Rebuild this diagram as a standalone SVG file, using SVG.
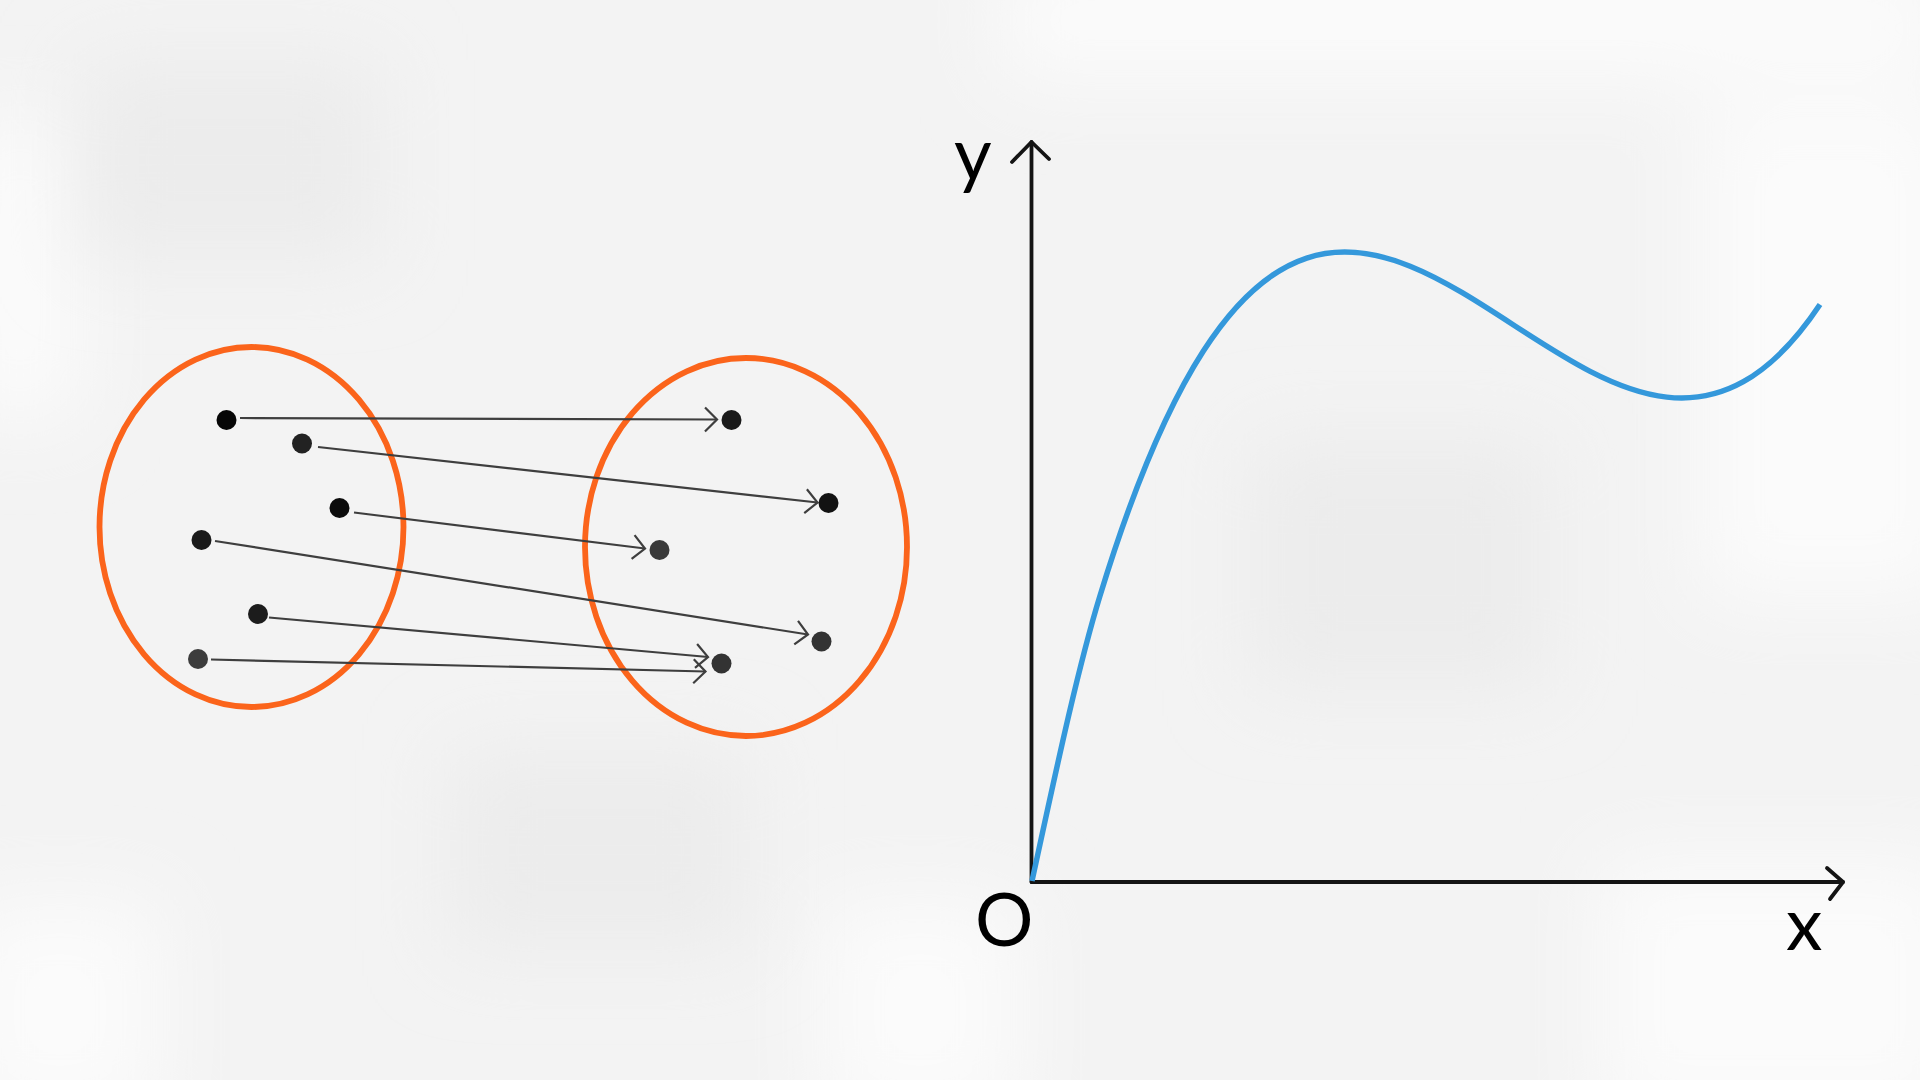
<svg xmlns="http://www.w3.org/2000/svg" width="1920" height="1080" viewBox="0 0 1920 1080">
  <defs>
    <style>
      .set { fill: none; stroke: #fb641b; stroke-width: 5.8; }
      .dot { stroke: none; }
      .conn { fill: none; stroke: #3e3e3e; stroke-width: 2.2; }
      .axis { fill: none; stroke: #141414; stroke-width: 3.8; stroke-linecap: round; stroke-linejoin: round; }
      .curve { fill: none; stroke: #3498db; stroke-width: 5.5; stroke-linecap: butt; }
      .lbl { font-family: Lato, "Liberation Sans", sans-serif; font-weight: 400; font-size: 73px; fill: #000; }
    </style>
    <marker id="chev" viewBox="0 0 16 28" refX="14" refY="14" markerWidth="16" markerHeight="28" markerUnits="userSpaceOnUse" orient="auto">
      <path d="M2,2 L14,14 L2,26" fill="none" stroke="#3e3e3e" stroke-width="2.2"/>
    </marker>
    <filter id="soft" x="-20%" y="-20%" width="140%" height="140%">
      <feGaussianBlur stdDeviation="40"/>
    </filter>
  </defs>

  <!-- background -->
  <g id="background">
    <rect x="0" y="0" width="1920" height="1080" fill="#f3f3f3"/>
    <g filter="url(#soft)" fill="#fbfbfb">
      <rect x="1000" y="-40" width="950" height="120"/>
      <rect x="1700" y="100" width="260" height="500"/>
      <rect x="-40" y="120" width="120" height="300"/>
      <rect x="1600" y="860" width="360" height="260"/>
      <rect x="820" y="900" width="200" height="220"/>
      <rect x="-40" y="900" width="200" height="220"/>
    </g>
    <g filter="url(#soft)" fill="#ececec">
      <rect x="80" y="60" width="300" height="200"/>
      <rect x="1250" y="440" width="300" height="250"/>
      <rect x="450" y="750" width="300" height="200"/>
    </g>
  </g>

  <!-- sets -->
  <g id="set-left">
    <ellipse class="set" cx="251.5" cy="527" rx="152" ry="180"/>
  </g>
  <g id="set-right">
    <ellipse class="set" cx="746" cy="547" rx="161" ry="189"/>
  </g>

  <!-- connectors -->
  <g id="connectors">
    <line class="conn" x1="240" y1="418" x2="717" y2="419.5" marker-end="url(#chev)"/>
    <line class="conn" x1="318" y1="447" x2="817.5" y2="502.5" marker-end="url(#chev)"/>
    <line class="conn" x1="354" y1="512.5" x2="645" y2="548.5" marker-end="url(#chev)"/>
    <line class="conn" x1="215" y1="541" x2="808" y2="634.5" marker-end="url(#chev)"/>
    <line class="conn" x1="269" y1="617.5" x2="708" y2="657" marker-end="url(#chev)"/>
    <line class="conn" x1="211" y1="659.5" x2="705.5" y2="671.5" marker-end="url(#chev)"/>
  </g>

  <!-- elements of left set -->
  <g id="a1"><circle class="dot" cx="226.5" cy="420" r="10" fill="#060606"/></g>
  <g id="a2"><circle class="dot" cx="302" cy="443.5" r="10" fill="#222222"/></g>
  <g id="a3"><circle class="dot" cx="339.5" cy="508" r="10" fill="#0b0b0b"/></g>
  <g id="a4"><circle class="dot" cx="201.5" cy="540" r="10" fill="#1a1a1a"/></g>
  <g id="a5"><circle class="dot" cx="258" cy="614" r="10" fill="#1c1c1c"/></g>
  <g id="a6"><circle class="dot" cx="198" cy="659" r="10" fill="#3c3c3c"/></g>

  <!-- elements of right set -->
  <g id="b1"><circle class="dot" cx="731.5" cy="420" r="10" fill="#1a1a1a"/></g>
  <g id="b2"><circle class="dot" cx="828.5" cy="503" r="10" fill="#121212"/></g>
  <g id="b3"><circle class="dot" cx="659.5" cy="550" r="10" fill="#3a3a3a"/></g>
  <g id="b4"><circle class="dot" cx="821.5" cy="641.5" r="10" fill="#333333"/></g>
  <g id="b5"><circle class="dot" cx="721.5" cy="663.5" r="10" fill="#333333"/></g>

  <!-- axes -->
  <g id="axis-y">
    <line class="axis" x1="1031.5" y1="882" x2="1031.5" y2="142"/>
    <polyline class="axis" points="1012,162 1031.5,142 1049,159"/>
  </g>
  <g id="axis-x">
    <line class="axis" x1="1031.5" y1="882" x2="1843" y2="882"/>
    <polyline class="axis" points="1827,868 1843,882 1830,899"/>
  </g>

  <!-- function graph -->
  <g id="graph">
    <path class="curve" d="M1032,881 C1054.7,776.7 1077.3,669.7 1100,595.7 C1340,-187.7 1580,664.6 1820,304.5"/>
  </g>

  <!-- labels -->
  <g id="label-y"><text class="lbl" x="954" y="180">y</text></g>
  <g id="label-o"><text class="lbl" x="975" y="946">O</text></g>
  <g id="label-x"><text class="lbl" x="1786" y="950">x</text></g>
</svg>
